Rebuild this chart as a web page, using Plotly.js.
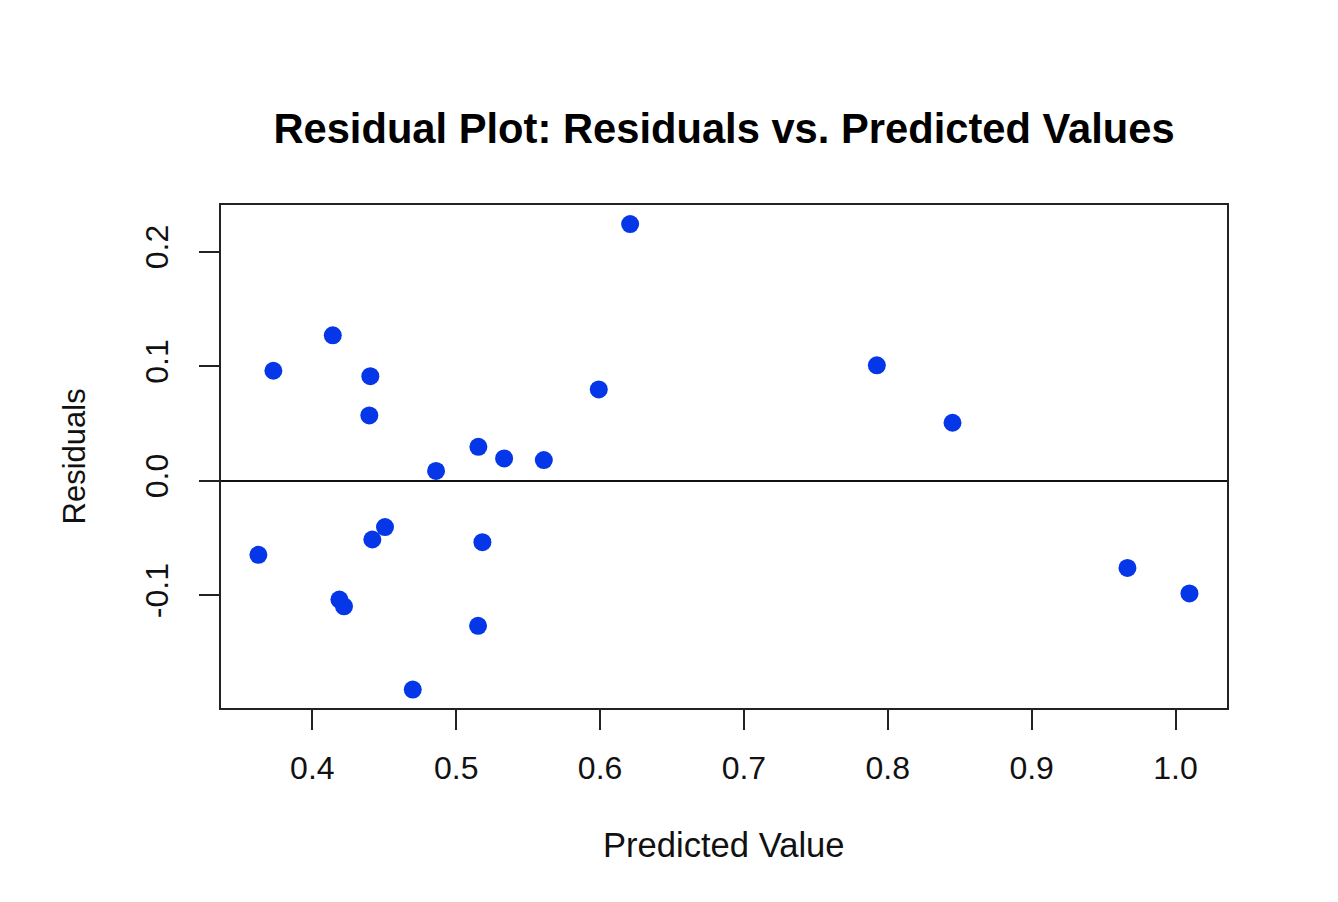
<!DOCTYPE html>
<html>
<head>
<meta charset="utf-8">
<script src="https://cdn.plot.ly/plotly-3.0.1.min.js"></script>
<style>html,body{margin:0;padding:0;background:#fff;}#chart{width:1338px;height:902px;}</style>
</head>
<body>
<div id="chart"></div>
<script>
// Data
var predicted = [0.3625, 0.3729, 0.4142, 0.4188, 0.4220, 0.4396, 0.4403, 0.4417, 0.4505, 0.4698, 0.4860,
                 0.5154, 0.5152, 0.5182, 0.5333, 0.5609, 0.5991, 0.6209, 0.7924, 0.8450, 0.9666, 1.0097];
var residuals = [-0.0646, 0.0961, 0.1270, -0.1036, -0.1095, 0.0571, 0.0914, -0.0512, -0.0404, -0.1822, 0.0087,
                 0.0297, -0.1266, -0.0535, 0.0196, 0.0181, 0.0798, 0.2242, 0.1008, 0.0507, -0.0760, -0.0983];
var xTickVals = [0.4, 0.5, 0.6, 0.7, 0.8, 0.9, 1.0];
var xTickText = ["0.4", "0.5", "0.6", "0.7", "0.8", "0.9", "1.0"];
var yTickVals = [-0.1, 0.0, 0.1, 0.2];
var yTickText = ["-0.1", "0.0", "0.1", "0.2"];
var chartTitle = "Residual Plot: Residuals vs. Predicted Values";
var xLabel = "Predicted Value";
var yLabel = "Residuals";

var font = "Liberation Sans, Arial, Helvetica, sans-serif";

var trace = {
  x: predicted,
  y: residuals,
  type: "scatter",
  mode: "markers",
  marker: {color: "#0536e8", size: 18, line: {width: 0}},
  hoverinfo: "x+y"
};

var layout = {
  width: 1338,
  height: 902,
  paper_bgcolor: "#ffffff",
  plot_bgcolor: "#ffffff",
  showlegend: false,
  margin: {l: 221, r: 111, t: 205, b: 194, pad: 0},
  font: {family: font, color: "#111"},
  title: {
    text: "<b>" + chartTitle + "</b>",
    font: {family: font, size: 41.7, color: "#000"},
    xref: "paper", x: 0.5, xanchor: "center",
    yref: "container", y: 1 - 128 / 902, yanchor: "middle"
  },
  xaxis: {
    range: [0.3365, 1.0358],
    tickmode: "array",
    tickvals: xTickVals,
    ticktext: xTickText,
    ticks: "outside",
    ticklen: 20,
    tickwidth: 1.5,
    tickcolor: "#222",
    ticklabelstandoff: 11,
    tickfont: {family: font, size: 32, color: "#111"},
    showgrid: false,
    zeroline: false,
    showline: true,
    mirror: true,
    linecolor: "#222",
    linewidth: 1.5
  },
  yaxis: {
    range: [-0.1983, 0.2408],
    tickmode: "array",
    tickvals: yTickVals,
    ticktext: yTickText,
    tickangle: -90,
    ticks: "outside",
    ticklen: 20,
    tickwidth: 1.5,
    tickcolor: "#222",
    ticklabelstandoff: 18,
    tickfont: {family: font, size: 32, color: "#111"},
    showgrid: false,
    zeroline: true,
    zerolinecolor: "#111",
    zerolinewidth: 1.5,
    showline: true,
    mirror: true,
    linecolor: "#222",
    linewidth: 1.5
  },
  annotations: [
    {text: xLabel, xref: "paper", yref: "paper", x: 0.5, y: -(845 - 707.7) / 502.7,
     xanchor: "center", yanchor: "middle", showarrow: false,
     font: {family: font, size: 34.6, color: "#111"}},
    {text: yLabel, xref: "paper", yref: "paper", x: (75 - 221) / 1005.7, y: 0.5,
     xanchor: "center", yanchor: "middle", showarrow: false, textangle: -90,
     font: {family: font, size: 31, color: "#111"}}
  ]
};

Plotly.newPlot("chart", [trace], layout, {displayModeBar: false, responsive: false});
</script>
</body>
</html>
